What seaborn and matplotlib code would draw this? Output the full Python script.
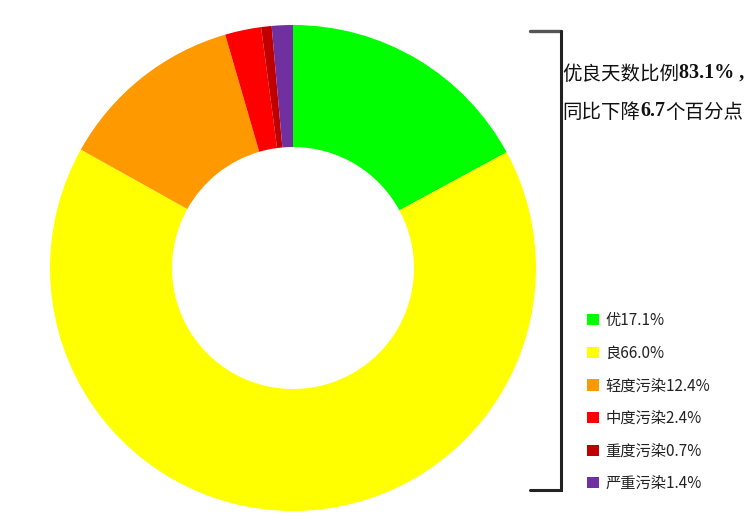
import matplotlib
matplotlib.use("Agg")
import matplotlib.pyplot as plt
import seaborn as sns

# air quality level shares (%)
levels = ["优", "良", "轻度污染", "中度污染", "重度污染", "严重污染"]
shares = [17.1, 66.0, 12.4, 2.4, 0.7, 1.4]
colors = ["#00FF00", "#FFFF00", "#FF9900", "#FF0000", "#C00000", "#7030A0"]
ratio_text = "83.1%"
drop_text = "6.7"

W, H = 752, 525

sns.set_theme(style="white")
plt.rcParams["font.family"] = ["Noto Sans CJK SC", "DejaVu Sans"]

fig = plt.figure(figsize=(W / 100, H / 100), dpi=100)
ax = fig.add_axes([0, 0, 1, 1])

# work in pixel units, y measured from the top
def py(y):
    return H - y

wedges, _ = ax.pie(shares, colors=colors, startangle=90, counterclock=False,
                   center=(293, py(268)), radius=243,
                   wedgeprops=dict(width=122, linewidth=0))
ax.set_xlim(0, W)
ax.set_ylim(0, H)
ax.set_aspect("equal")
ax.axis("off")

# bracket
ax.plot([530, 561], [py(31), py(31)], color="#555555", lw=2.4)
ax.plot([561, 561, 530], [py(31), py(490), py(490)],
        color="#222222", lw=2.2, solid_joinstyle="miter")

# annotation text, CJK plus bold serif numbers
serif_bold = dict(family=["Liberation Serif", "DejaVu Serif"], weight="bold")
fs_cjk, fs_num = 14, 14.5
t = ax.text(562, py(75), "优良天数比例", fontsize=fs_cjk, va="center", color="#111111")
ax.annotate(ratio_text + " ,", xy=(1, 0.12), xycoords=t, va="bottom", fontsize=fs_num,
            color="#111111", **serif_bold)
t = ax.text(562, py(113), "同比下降", fontsize=fs_cjk, va="center", color="#111111")
t = ax.annotate(drop_text, xy=(1, 0.12), xycoords=t, va="bottom", fontsize=fs_num,
                color="#111111", **serif_bold)
ax.annotate("个百分点", xy=(1, -0.12), xycoords=t, va="bottom", fontsize=fs_cjk,
            color="#111111")

# legend
labels = [f"{n}{v}%" for n, v in zip(levels, shares)]
leg = ax.legend(wedges, labels, loc="upper left",
                bbox_to_anchor=(581 / W, 1 - 306 / H),
                frameon=False, fontsize=11, handlelength=0.75, handleheight=0.75,
                handletextpad=0.45, labelspacing=1.02, borderaxespad=0)
for txt in leg.get_texts():
    txt.set_color("#222222")

fig.savefig("out.png", dpi=100, facecolor="white")
